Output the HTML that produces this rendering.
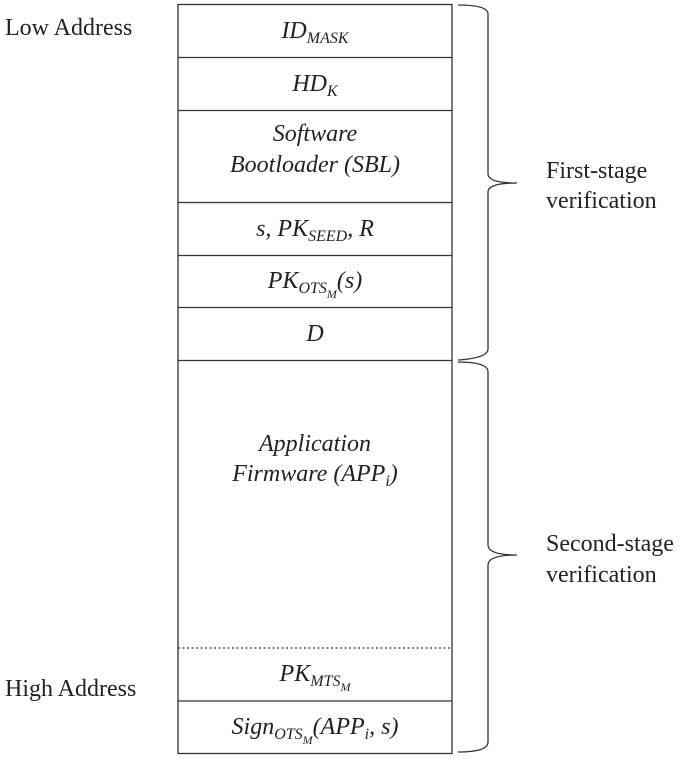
<!DOCTYPE html>
<html><head><style>
html,body{margin:0;padding:0;background:#fff;}
svg{display:block;}
text{font-family:"Liberation Serif",serif;fill:#222;}
.m{font-style:italic;font-size:24px;}
.s{font-size:16px;font-style:italic;}
.ss{font-size:12px;font-style:italic;}
.l{font-size:24px;}
</style></head><body>
<svg width="685" height="759" viewBox="0 0 685 759" xmlns="http://www.w3.org/2000/svg">
<g stroke="#333" stroke-width="1.3" fill="none">
<rect x="178" y="4.5" width="274" height="749"/>
<line x1="178" y1="57.5" x2="452" y2="57.5"/>
<line x1="178" y1="110.5" x2="452" y2="110.5"/>
<line x1="178" y1="202.5" x2="452" y2="202.5"/>
<line x1="178" y1="255.5" x2="452" y2="255.5"/>
<line x1="178" y1="307.5" x2="452" y2="307.5"/>
<line x1="178" y1="360.5" x2="452" y2="360.5"/>
<line x1="178" y1="701" x2="452" y2="701"/>
<line x1="178" y1="648" x2="452" y2="648" stroke-dasharray="2,2.5"/>
<path d="M458 5 Q488 5 488 14 L488 174 Q488 183 517 183 Q488 183 488 192 L488 349 Q488 358 458 360"/>
<path d="M458 362 Q488 362 488 372 L488 545 Q488 555 517 555 Q488 555 488 565 L488 742 Q488 752 458 752"/>
</g>
<text class="l" x="5" y="35">Low Address</text>
<text class="l" x="5" y="696">High Address</text>
<text class="l" x="546" y="178">First-stage</text>
<text class="l" x="546" y="208">verification</text>
<text class="l" x="546" y="551">Second-stage</text>
<text class="l" x="546" y="582">verification</text>
<text class="m" x="315" y="38" text-anchor="middle">ID<tspan class="s" dy="5">MASK</tspan></text>
<text class="m" x="315" y="91" text-anchor="middle">HD<tspan class="s" dy="5">K</tspan></text>
<text class="m" x="315" y="141" text-anchor="middle">Software</text>
<text class="m" x="315" y="172" text-anchor="middle">Bootloader (SBL)</text>
<text class="m" x="315" y="236" text-anchor="middle">s, PK<tspan class="s" dy="5">SEED</tspan><tspan dy="-5">, R</tspan></text>
<text class="m" x="315" y="288" text-anchor="middle">PK<tspan class="s" dy="5">OTS</tspan><tspan class="ss" dy="5">M</tspan><tspan dy="-10">(s)</tspan></text>
<text class="m" x="315" y="341" text-anchor="middle">D</text>
<text class="m" x="315" y="451" text-anchor="middle">Application</text>
<text class="m" x="315" y="481" text-anchor="middle">Firmware (APP<tspan class="s" dy="5">i</tspan><tspan dy="-5">)</tspan></text>
<text class="m" x="315" y="681" text-anchor="middle">PK<tspan class="s" dy="5">MTS</tspan><tspan class="ss" dy="5">M</tspan></text>
<text class="m" x="315" y="734" text-anchor="middle">Sign<tspan class="s" dy="5">OTS</tspan><tspan class="ss" dy="5">M</tspan><tspan dy="-10">(APP</tspan><tspan class="s" dy="5">i</tspan><tspan dy="-5">, s)</tspan></text>
</svg>
</body></html>
